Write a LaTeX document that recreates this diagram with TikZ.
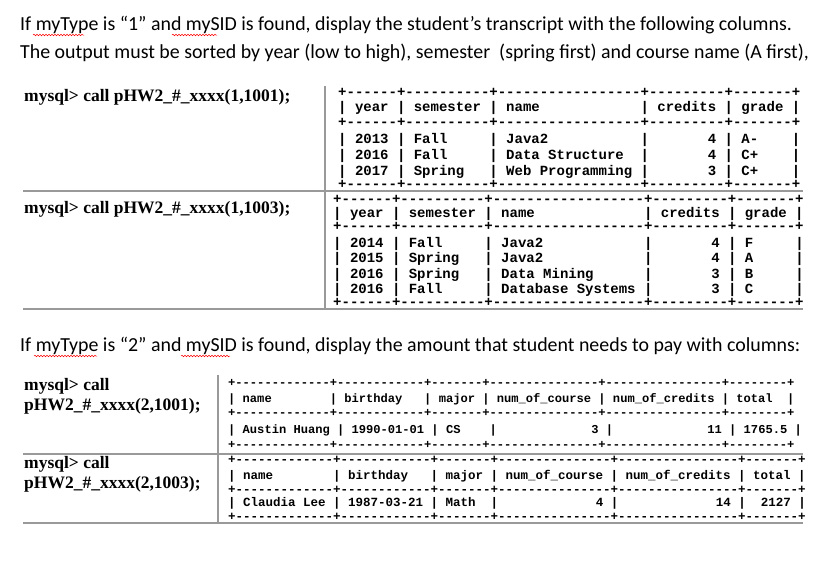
\documentclass[tikz,border=0pt]{standalone}
\usepackage{fontspec}
\setmainfont{Carlito}
\newfontfamily\codefont{Liberation Mono}
\newfontfamily\tnr{Liberation Serif}
\usetikzlibrary{decorations.pathmorphing}
\tikzset{
 para/.style={anchor=base west,inner sep=0pt,font=\fontsize{19.9}{22}\selectfont},
 cmd/.style={anchor=base west,inner sep=0pt,font=\tnr\bfseries\fontsize{17.5}{20}\selectfont},
 rowA/.style={anchor=base west,inner sep=0pt,font=\codefont\bfseries\fontsize{14}{16}\selectfont},
 rowB/.style={anchor=base west,inner sep=0pt,font=\codefont\bfseries\fontsize{12.1}{14}\selectfont},
 rowC/.style={anchor=base west,inner sep=0pt,font=\codefont\bfseries\fontsize{12.5}{14}\selectfont},
 grid/.style={draw=gray!80,line width=1.2pt},
 wavy/.style={draw=red,line width=0.5pt,decorate,decoration={snake,amplitude=0.8pt,segment length=3pt}}
}
\begin{document}
\begin{tikzpicture}[x=1pt,y=-1pt]
\useasboundingbox (0,0) rectangle (823,579);
\fill[white] (0,0) rectangle (823,579);
\node[para] (p1) at (20,30) {If myType is “1” and mySID is found, display the student’s transcript with the following columns.};
\node[para] (p2) at (20,58) {The output must be sorted by year (low to high), semester\ \ (spring first) and course name (A first),};
\draw[wavy] (33,35) -- (84,35);
\draw[wavy] (172,35) -- (217,35);
% table 1 grid
\draw[grid] (325,86) -- (325,309);
\draw[grid] (23,191) -- (803,191);
\draw[grid] (23,309) -- (803,309);
\node[cmd] (c1) at (24,101) {mysql> call pHW2\_\#\_xxxx(1,1001);};
\node[cmd] (c2) at (24,213) {mysql> call pHW2\_\#\_xxxx(1,1003);};
% result 1
\node[rowA] at (338,96) {+------+----------+-----------------+---------+-------+};
\node[rowA] at (338,111) {|\ year | semester | name\ \ \ \ \ \ \ \ \ \ \ \ | credits | grade |};
\node[rowA] at (338,126) {+------+----------+-----------------+---------+-------+};
\node[rowA] (r11) at (338,143) {|\ 2013 | Fall\ \ \ \ \ | Java2\ \ \ \ \ \ \ \ \ \ \ |\ \ \ \ \ \ \ 4 | A-\ \ \ \ |};
\node[rowA] at (338,159) {|\ 2016 | Fall\ \ \ \ \ | Data Structure\ \ |\ \ \ \ \ \ \ 4 | C+\ \ \ \ |};
\node[rowA] at (338,175) {|\ 2017 | Spring\ \ \ | Web Programming |\ \ \ \ \ \ \ 3 | C+\ \ \ \ |};
\node[rowA] at (338,188) {+------+----------+-----------------+---------+-------+};
% result 2
\node[rowA] at (333,203) {+------+----------+------------------+---------+-------+};
\node[rowA] at (333,217) {|\ year | semester | name\ \ \ \ \ \ \ \ \ \ \ \ \ | credits | grade |};
\node[rowA] at (333,230) {+------+----------+------------------+---------+-------+};
\node[rowA] at (333,247) {|\ 2014 | Fall\ \ \ \ \ | Java2\ \ \ \ \ \ \ \ \ \ \ \ |\ \ \ \ \ \ \ 4 | F\ \ \ \ \ |};
\node[rowA] at (333,262) {|\ 2015 | Spring\ \ \ | Java2\ \ \ \ \ \ \ \ \ \ \ \ |\ \ \ \ \ \ \ 4 | A\ \ \ \ \ |};
\node[rowA] at (333,278) {|\ 2016 | Spring\ \ \ | Data Mining\ \ \ \ \ \ |\ \ \ \ \ \ \ 3 | B\ \ \ \ \ |};
\node[rowA] at (333,293) {|\ 2016 | Fall\ \ \ \ \ | Database Systems |\ \ \ \ \ \ \ 3 | C\ \ \ \ \ |};
\node[rowA] at (333,306) {+------+----------+------------------+---------+-------+};
% paragraph 2
\node[para] (p3) at (20,351) {If myType is “2” and mySID is found, display the amount that student needs to pay with columns:};
\draw[wavy] (34,356) -- (97,356);
\draw[wavy] (181,356) -- (230,356);
% table 2 grid
\draw[grid] (218,375) -- (218,523);
\draw[grid] (23,454) -- (803,454);
\draw[grid] (23,523) -- (803,523);
\node[cmd] (c3) at (24,390) {mysql> call};
\node[cmd] (c4) at (24,410) {pHW2\_\#\_xxxx(2,1001);};
\node[cmd] (c5) at (24,468) {mysql> call};
\node[cmd] (c6) at (24,488) {pHW2\_\#\_xxxx(2,1003);};
% result 3
\node[rowB] at (228,386) {+-------------+------------+-------+---------------+----------------+--------+};
\node[rowB] at (228,402) {|\ name\ \ \ \ \ \ \ \ | birthday\ \ \ | major | num\_of\_course | num\_of\_credits | total\ \ |};
\node[rowB] at (228,416) {+-------------+------------+-------+---------------+----------------+--------+};
\node[rowB] at (228,433) {|\ Austin Huang | 1990-01-01 | CS\ \ \ \ |\ \ \ \ \ \ \ \ \ \ \ \ \ 3 |\ \ \ \ \ \ \ \ \ \ \ \ \ 11 | 1765.5 |};
\node[rowB] at (228,448) {+-------------+------------+-------+---------------+----------------+--------+};
% result 4
\node[rowC] at (228,463) {+-------------+------------+-------+---------------+----------------+-------+};
\node[rowC] at (228,479) {|\ name\ \ \ \ \ \ \ \ | birthday\ \ \ | major | num\_of\_course | num\_of\_credits | total |};
\node[rowC] at (228,493) {+-------------+------------+-------+---------------+----------------+-------+};
\node[rowC] at (228,506) {|\ Claudia Lee | 1987-03-21 | Math\ \ |\ \ \ \ \ \ \ \ \ \ \ \ \ 4 |\ \ \ \ \ \ \ \ \ \ \ \ \ 14 |\ \ 2127 |};
\node[rowC] at (228,520) {+-------------+------------+-------+---------------+----------------+-------+};
\end{tikzpicture}
\end{document}
